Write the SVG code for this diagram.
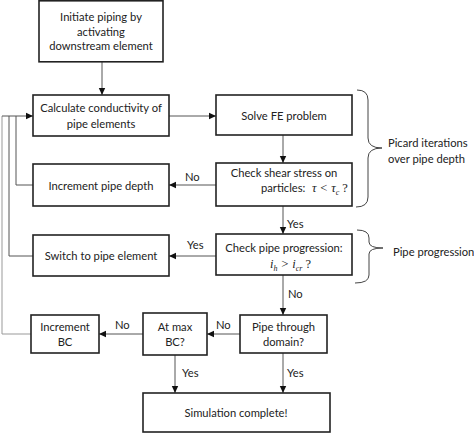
<svg xmlns="http://www.w3.org/2000/svg" width="474" height="433" viewBox="0 0 474 433">
<style>
.box{fill:#fff;stroke:#222;stroke-width:1.6}
.t{font-family:"Lato","Liberation Sans",sans-serif;font-size:11.2px;fill:#222;text-anchor:middle}
.l{font-family:"Lato","Liberation Sans",sans-serif;font-size:11.2px;fill:#222}
.m{font-family:"Liberation Serif",serif;font-style:italic;font-size:12.5px;fill:#222}
.e{fill:none;stroke:#555;stroke-width:1}
.g{fill:none;stroke:#999;stroke-width:1}
.br{fill:none;stroke:#444;stroke-width:1}
</style>
<defs>
<marker id="a" markerWidth="8" markerHeight="8" refX="7" refY="4" orient="auto" markerUnits="userSpaceOnUse">
<path d="M0,0.8 L7,4 L0,7.2 Z" fill="#111"/>
</marker>
</defs>
<rect width="474" height="433" fill="#fff"/>
<g id="connectors">
<path class="e" d="M102,62 V95" marker-end="url(#a)"/>
<path class="e" d="M169,116 H216" marker-end="url(#a)"/>
<path class="e" d="M283,135 V163" marker-end="url(#a)"/>
<path class="e" d="M216,185 H169" marker-end="url(#a)"/>
<path class="e" d="M283,206 V234" marker-end="url(#a)"/>
<path class="e" d="M216,256 H169" marker-end="url(#a)"/>
<path class="e" d="M283,275 V315" marker-end="url(#a)"/>
<path class="e" d="M240,334 H207" marker-end="url(#a)"/>
<path class="e" d="M143,334 H99" marker-end="url(#a)"/>
<path class="e" d="M175,355 V393" marker-end="url(#a)"/>
<path class="e" d="M283,353 V393" marker-end="url(#a)"/>
<path class="e" d="M33,185 H16 V116"/>
<path class="e" d="M33,256 H9 V116"/>
<path class="g" d="M31,334 H2 V116"/>
<path class="e" d="M2,116 H33" marker-end="url(#a)"/>
<text class="l" x="185" y="181">No</text>
<text class="l" x="187" y="249">Yes</text>
<text class="l" x="287" y="228">Yes</text>
<text class="l" x="288" y="298">No</text>
<text class="l" x="115" y="329">No</text>
<text class="l" x="216" y="329">No</text>
<text class="l" x="182" y="377">Yes</text>
<text class="l" x="287" y="377">Yes</text>
</g>
<g id="n1"><rect class="box" x="39" y="0.8" width="124" height="61"/>
<text class="t" x="101" y="21">Initiate piping by</text>
<text class="t" x="101" y="36">activating</text>
<text class="t" x="101" y="50">downstream element</text></g>
<g id="n2"><rect class="box" x="33" y="95" width="136" height="41"/>
<text class="t" x="101" y="112">Calculate conductivity of</text>
<text class="t" x="101" y="128">pipe elements</text></g>
<g id="n3"><rect class="box" x="216" y="95" width="136" height="40"/>
<text class="t" x="284" y="120">Solve FE problem</text></g>
<g id="n4"><rect class="box" x="216" y="163" width="136" height="43"/>
<text class="t" x="284" y="177">Check shear stress on</text>
<text class="l" x="261" y="192">particles:</text>
<text class="m" x="312" y="192">τ &lt; τ<tspan font-size="8" dy="3">c</tspan><tspan dy="-3" font-style="normal"> ?</tspan></text></g>
<g id="n5"><rect class="box" x="216" y="234" width="136" height="41"/>
<text class="t" x="284" y="252">Check pipe progression:</text>
<text class="m" x="270" y="268">i<tspan font-size="8" dy="3">h</tspan><tspan dy="-3"> &gt; i</tspan><tspan font-size="8" dy="3">cr</tspan><tspan dy="-3" font-style="normal"> ?</tspan></text></g>
<g id="n6"><rect class="box" x="33" y="164" width="136" height="42"/>
<text class="t" x="101" y="190">Increment pipe depth</text></g>
<g id="n7"><rect class="box" x="33" y="235" width="136" height="41"/>
<text class="t" x="101" y="260">Switch to pipe element</text></g>
<g id="n8"><rect class="box" x="31" y="315" width="68" height="38"/>
<text class="t" x="65" y="331">Increment</text>
<text class="t" x="65" y="346">BC</text></g>
<g id="n9"><rect class="box" x="143" y="313" width="64" height="42"/>
<text class="t" x="175" y="331">At max</text>
<text class="t" x="175" y="346">BC?</text></g>
<g id="n10"><rect class="box" x="240" y="315" width="87" height="38"/>
<text class="t" x="283.5" y="331">Pipe through</text>
<text class="t" x="283.5" y="346">domain?</text></g>
<g id="n11"><rect class="box" x="143" y="393" width="187" height="39"/>
<text class="t" x="236" y="417">Simulation complete!</text></g>
<g id="braces">
<path class="br" d="M357,90 Q368,90 368,100 V138 Q368,148 382,148 Q368,148 368,158 V197 Q368,207 356,207"/>
<path class="br" d="M357,230 Q369,230 369,238 V242 Q369,248 383,248 Q369,248 369,254 V275 Q369,283 355,283"/>
<text class="l" x="388" y="147">Picard iterations</text>
<text class="l" x="388" y="163">over pipe depth</text>
<text class="l" x="393" y="256">Pipe progression</text>
</g>
</svg>
